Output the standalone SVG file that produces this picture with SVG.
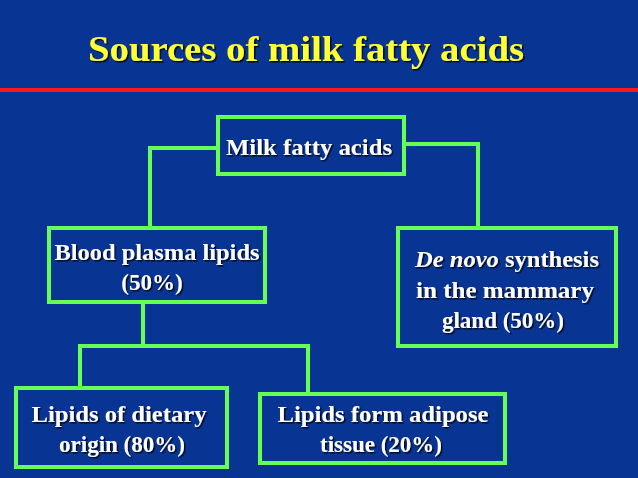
<svg xmlns="http://www.w3.org/2000/svg" width="638" height="478" viewBox="0 0 638 478">
<defs>
<filter id="sh" x="-10%" y="-10%" width="120%" height="130%"><feDropShadow dx="1.5" dy="1.5" stdDeviation="0.3" flood-color="#000" flood-opacity="0.8"/></filter>
</defs>
<style>
.box{fill:none;stroke:#66ff55;stroke-width:4}
.ln{fill:none;stroke:#66ff55;stroke-width:4}
.t{font-family:"Liberation Serif",serif;font-weight:bold;font-size:23px;fill:#fff;text-anchor:middle;filter:url(#sh)}
</style>
<rect width="638" height="478" fill="#083494"/>
<text x="306" y="61" font-family="Liberation Serif,serif" font-weight="bold" font-size="36" fill="#ffff33" text-anchor="middle" filter="url(#sh)" textLength="436" lengthAdjust="spacingAndGlyphs">Sources of milk fatty acids</text>
<rect x="0" y="88" width="638" height="4" fill="#ff1a1a"/>
<g id="connectors">
<polyline class="ln" points="218,148 150,148 150,228"/>
<polyline class="ln" points="404,144 478,144 478,228"/>
<polyline class="ln" points="143,302 143,346"/>
<polyline class="ln" points="80,388 80,346 308,346 308,394"/>
</g>
<g id="milk"><rect class="box" x="218" y="117" width="186" height="57"/><text class="t" x="309" y="155" textLength="166" lengthAdjust="spacingAndGlyphs">Milk fatty acids</text></g>
<g id="blood"><rect class="box" x="49" y="228" width="216" height="74"/><text class="t" x="157" y="260" textLength="205" lengthAdjust="spacingAndGlyphs">Blood plasma lipids</text><text class="t" x="152" y="290">(50%)</text></g>
<g id="denovo"><rect class="box" x="398" y="228" width="218" height="118"/><text class="t" x="507" y="267" textLength="184" lengthAdjust="spacingAndGlyphs"><tspan font-style="italic">De novo</tspan> synthesis</text><text class="t" x="505" y="298" textLength="178" lengthAdjust="spacingAndGlyphs">in the mammary</text><text class="t" x="503" y="328">gland (50%)</text></g>
<g id="dietary"><rect class="box" x="16" y="388" width="211" height="79"/><text class="t" x="119" y="422" textLength="175" lengthAdjust="spacingAndGlyphs">Lipids of dietary</text><text class="t" x="122" y="452">origin (80%)</text></g>
<g id="adipose"><rect class="box" x="260" y="394" width="245" height="69"/><text class="t" x="383" y="422" textLength="211" lengthAdjust="spacingAndGlyphs">Lipids form adipose</text><text class="t" x="381" y="452">tissue (20%)</text></g>
</svg>
